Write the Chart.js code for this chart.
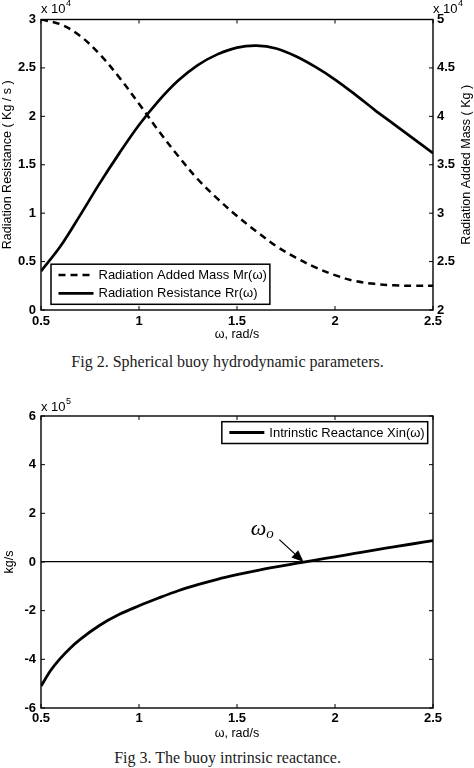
<!DOCTYPE html>
<html><head><meta charset="utf-8">
<script src="https://cdn.jsdelivr.net/npm/chart.js@4.4.1/dist/chart.umd.min.js"></script>
<style>
html,body{margin:0;padding:0;background:#fff;}
#wrap{position:relative;width:474px;height:768px;overflow:hidden;background:#fff;}
canvas{position:absolute;left:0;}
#c1{top:0;}
#c2{top:380px;}
.cap{position:absolute;left:0;width:455px;text-align:center;font-family:"Liberation Serif","Times New Roman",serif;font-size:16px;line-height:18px;color:#1a1a1a;white-space:nowrap;}
</style></head><body>
<div id="wrap">
<canvas id="c1" width="474" height="345"></canvas>
<div class="cap" style="top:352.5px">Fig 2. Spherical buoy hydrodynamic parameters.</div>
<canvas id="c2" width="474" height="364"></canvas>
<div class="cap" style="top:749px">Fig 3. The buoy intrinsic reactance.</div>
</div>
<script>
// ---------- data ----------
const omega = [0.5,0.6,0.7,0.8,0.9,1.0,1.1,1.2,1.3,1.4,1.5,1.6,1.7,1.8,1.9,2.0,2.1,2.2,2.3,2.4,2.5];
// Radiation Resistance Rr (x 10^4 kg/s)
const resistanceRr = [0.40,0.66,0.98,1.31,1.62,1.91,2.16,2.37,2.53,2.64,2.71,2.73,2.70,2.62,2.51,2.38,2.23,2.07,1.92,1.77,1.62];
// Radiation Added Mass Mr (x 10^4 kg)
const addedMassMr = [5.00,4.95,4.83,4.64,4.40,4.13,3.85,3.59,3.35,3.15,2.97,2.81,2.66,2.54,2.44,2.36,2.30,2.27,2.255,2.25,2.25];

const omega2 = [0.5,0.55,0.6,0.65,0.7,0.8,0.9,1.0,1.1,1.2,1.3,1.4,1.5,1.6,1.7,1.8,1.9,2.0,2.1,2.2,2.3,2.4,2.5];
// Intrinsic Reactance Xin (x 10^5 kg/s)
const reactanceXin = [-5.10,-4.45,-3.95,-3.53,-3.18,-2.60,-2.15,-1.80,-1.48,-1.18,-0.93,-0.71,-0.52,-0.35,-0.20,-0.06,0.08,0.21,0.35,0.49,0.62,0.75,0.88];

const xTickValues = [0.5,1,1.5,2,2.5];
const leftTicks1 = [0,0.5,1,1.5,2,2.5,3];
const rightTicks1 = [2,2.5,3,3.5,4,4.5,5];
const yTicks2 = [-6,-4,-2,0,2,4,6];

const labelMr = 'Radiation Added Mass Mr(\u03c9)';
const labelRr = 'Radiation Resistance Rr(\u03c9)';
const labelXin = 'Intrinstic Reactance Xin(\u03c9)';
const omegaZero = 1.84;      // resonance point
const arrowStart = [1.716, 0.92];
const omegaTextPos = [1.57, 1.33];

// ---------- helpers ----------
const SANS = '"Liberation Sans", Arial, Helvetica, sans-serif';
Chart.defaults.font.family = SANS;
Chart.defaults.color = '#000';

const pts = (xs, ys) => xs.map((x, i) => ({x, y: ys[i]}));
const setTicks = arr => s => { s.ticks = arr.map(v => ({value: v})); };
const fmt = v => String(v);

function line(ctx, x1, y1, x2, y2) { ctx.beginPath(); ctx.moveTo(x1, y1); ctx.lineTo(x2, y2); ctx.stroke(); }

function drawExp(ctx, x, y, exp) {
  ctx.save();
  ctx.fillStyle = '#000';
  ctx.textAlign = 'left'; ctx.textBaseline = 'middle';
  ctx.font = '13px ' + SANS;
  ctx.fillText('x 10', x, y);
  const w = ctx.measureText('x 10').width;
  ctx.font = '9px ' + SANS;
  ctx.fillText(exp, x + w + 0.5, y - 5.5);
  ctx.restore();
}

// MATLAB-like frame with inward ticks
const framePlugin = {
  id: 'frame',
  afterDatasetsDraw(chart, args, opts) {
    const {ctx, chartArea: a} = chart;
    const L = 4;
    ctx.save();
    ctx.strokeStyle = '#000'; ctx.lineWidth = 1;
    const xs = chart.scales.x;
    xs.ticks.forEach(t => {
      const p = xs.getPixelForValue(t.value);
      line(ctx, p, a.bottom, p, a.bottom - L);
      line(ctx, p, a.top, p, a.top + L);
    });
    const ys = chart.scales.y;
    ys.ticks.forEach(t => {
      const p = ys.getPixelForValue(t.value);
      line(ctx, a.left, p, a.left + L, p);
      if (opts.mirrorY) line(ctx, a.right, p, a.right - L, p);
    });
    if (chart.scales.y2) {
      const y2 = chart.scales.y2;
      y2.ticks.forEach(t => {
        const p = y2.getPixelForValue(t.value);
        line(ctx, a.right, p, a.right - L, p);
      });
    }
    ctx.lineWidth = 1.4;
    ctx.strokeRect(a.left, a.top, a.right - a.left, a.bottom - a.top);
    ctx.restore();
  }
};

// in-plot legend box
const boxLegendPlugin = {
  id: 'boxLegend',
  afterDraw(chart, args, opts) {
    const {ctx, chartArea: a} = chart;
    const ds = chart.data.datasets;
    ctx.save();
    ctx.font = '13px ' + SANS;
    const textW = Math.max(...ds.map(d => ctx.measureText(d.label).width));
    const rowH = 18.3;
    const w = 47.5 + textW + 3;
    const h = ds.length * rowH + 3.5;
    let left, top;
    if (opts.corner === 'bottomleft') { left = a.left + opts.dx; top = a.bottom - opts.dy - h; }
    else { left = a.right - opts.dx - w; top = a.top + opts.dy; }
    ctx.fillStyle = '#fff';
    ctx.fillRect(left, top, w, h);
    ctx.strokeStyle = '#000'; ctx.lineWidth = 1.5;
    ctx.strokeRect(left, top, w, h);
    ds.forEach((d, i) => {
      const cy = top + 10.8 + i * rowH;
      ctx.save();
      ctx.strokeStyle = d.borderColor; ctx.lineWidth = d.borderWidth;
      ctx.setLineDash(d.borderDash || []);
      line(ctx, left + 7.5, cy, left + 42.5, cy);
      ctx.restore();
      ctx.fillStyle = '#000'; ctx.textAlign = 'left'; ctx.textBaseline = 'middle';
      ctx.fillText(d.label, left + 47.5, cy + 0.5);
    });
    ctx.restore();
  }
};

const extras1 = {
  id: 'extras1',
  afterDraw(chart) {
    const {ctx, chartArea: a} = chart;
    drawExp(ctx, a.left, a.top - 10, '4');
    drawExp(ctx, a.right, a.top - 10, '4');
    ctx.save();
    ctx.fillStyle = '#000';
    ctx.font = '12.5px ' + SANS;
    ctx.translate(a.right + 33.5, (a.top + a.bottom) / 2);
    ctx.rotate(-Math.PI / 2);
    ctx.textAlign = 'center'; ctx.textBaseline = 'middle';
    ctx.fillText('Radiation Added Mass ( Kg )', 0, 0);
    ctx.restore();
  }
};

const extras2 = {
  id: 'extras2',
  afterDraw(chart) {
    const {ctx, chartArea: a, scales: {x, y}} = chart;
    drawExp(ctx, a.left, a.top - 8.5, '5');
    // omega_o annotation
    ctx.save();
    ctx.fillStyle = '#000';
    const tx = x.getPixelForValue(omegaTextPos[0]);
    const ty = y.getPixelForValue(omegaTextPos[1]);
    ctx.textAlign = 'left'; ctx.textBaseline = 'middle';
    ctx.font = 'italic 22px "Liberation Serif", "Times New Roman", serif';
    ctx.fillText('\u03c9', tx, ty);
    const w = ctx.measureText('\u03c9').width;
    ctx.font = 'italic 15px "Liberation Serif", "Times New Roman", serif';
    ctx.fillText('o', tx + w, ty + 4);
    // arrow
    const x1 = x.getPixelForValue(arrowStart[0]), y1 = y.getPixelForValue(arrowStart[1]);
    const x2 = x.getPixelForValue(omegaZero), y2 = y.getPixelForValue(0);
    const ang = Math.atan2(y2 - y1, x2 - x1);
    const hl = 12, hw = 5;
    const bx = x2 - hl * Math.cos(ang), by = y2 - hl * Math.sin(ang);
    ctx.strokeStyle = '#000'; ctx.lineWidth = 1.3;
    line(ctx, x1, y1, bx, by);
    ctx.beginPath();
    ctx.moveTo(x2, y2);
    ctx.lineTo(bx + hw * Math.sin(ang), by - hw * Math.cos(ang));
    ctx.lineTo(bx - hw * Math.sin(ang), by + hw * Math.cos(ang));
    ctx.closePath();
    ctx.fill();
    ctx.restore();
  }
};

const tickFont = {size: 13, weight: 'bold'};
const xScale = (h, pad) => ({
  type: 'linear', min: 0.5, max: 2.5,
  afterBuildTicks: setTicks(xTickValues),
  afterFit: s => { s.height = h; },
  grid: {display: false, drawTicks: false},
  border: {display: false},
  ticks: {padding: pad, font: tickFont, color: '#000', maxRotation: 0, autoSkip: false, callback: fmt},
  title: {display: true, text: '\u03c9, rad/s', font: {size: 12.5}, color: '#000', padding: {top: 0, bottom: 3}}
});

// ---------- chart 1 ----------
new Chart(document.getElementById('c1'), {
  type: 'line',
  data: {
    datasets: [
      {label: labelMr, data: pts(omega, addedMassMr), yAxisID: 'y2', borderColor: '#000', borderWidth: 2.5,
       borderDash: [7, 5], pointRadius: 0, tension: 0.35, fill: false},
      {label: labelRr, data: pts(omega, resistanceRr), yAxisID: 'y', borderColor: '#000', borderWidth: 2.7,
       pointRadius: 0, tension: 0.35, fill: false}
    ]
  },
  options: {
    responsive: false, animation: false, devicePixelRatio: 1,
    layout: {padding: {top: 19.5, left: 0, right: 0, bottom: 0}},
    plugins: {legend: {display: false}, tooltip: {enabled: false},
      frame: {mirrorY: false},
      boxLegend: {corner: 'bottomleft', dx: 10, dy: 5.7}},
    scales: {
      x: xScale(35, 4),
      y: {
        position: 'left', min: 0, max: 3,
        afterBuildTicks: setTicks(leftTicks1),
        afterFit: s => { s.width = 41; },
        grid: {display: false, drawTicks: false}, border: {display: false},
        ticks: {padding: 5, font: tickFont, color: '#000', callback: fmt},
        title: {display: true, text: 'Radiation Resistance ( Kg / s )', font: {size: 12.5}, color: '#000', padding: {top: 0, bottom: 0}}
      },
      y2: {
        position: 'right', min: 2, max: 5,
        afterBuildTicks: setTicks(rightTicks1),
        afterFit: s => { s.width = 41; },
        grid: {display: false, drawTicks: false}, border: {display: false},
        ticks: {padding: 4, font: tickFont, color: '#000', callback: fmt}
      }
    }
  },
  plugins: [framePlugin, boxLegendPlugin, extras1]
});

// ---------- chart 2 ----------
new Chart(document.getElementById('c2'), {
  type: 'line',
  data: {
    datasets: [
      {label: labelXin, data: pts(omega2, reactanceXin), borderColor: '#000', borderWidth: 2.8,
       pointRadius: 0, cubicInterpolationMode: 'monotone', fill: false}
    ]
  },
  options: {
    responsive: false, animation: false, devicePixelRatio: 1,
    layout: {padding: {top: 36, left: 0, right: 41, bottom: 0}},
    plugins: {legend: {display: false}, tooltip: {enabled: false},
      frame: {mirrorY: true},
      boxLegend: {corner: 'topright', dx: 5.3, dy: 5.7}},
    scales: {
      x: xScale(36, 3),
      y: {
        position: 'left', min: -6, max: 6,
        afterBuildTicks: setTicks(yTicks2),
        afterFit: s => { s.width = 41; },
        grid: {display: true, drawTicks: false, lineWidth: 1.3,
               color: c => (c.tick && c.tick.value === 0) ? '#000' : 'rgba(0,0,0,0)'},
        border: {display: false},
        ticks: {padding: 5, font: tickFont, color: '#000', callback: fmt},
        title: {display: true, text: 'kg/s', font: {size: 12.5}, color: '#000', padding: {top: 2.5, bottom: 0}}
      }
    }
  },
  plugins: [framePlugin, boxLegendPlugin, extras2]
});
</script>
</body></html>
